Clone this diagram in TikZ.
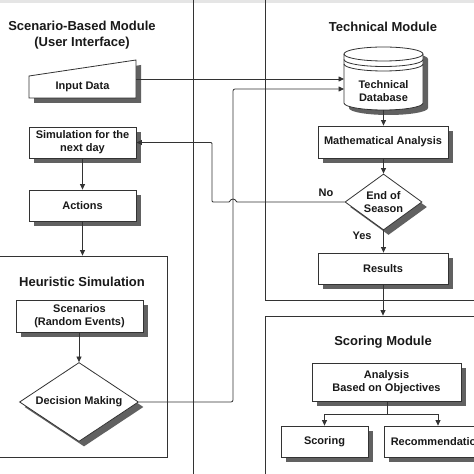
\documentclass[tikz,border=0pt]{standalone}
\usepackage{fontspec}
\setmainfont{Liberation Sans}
\usetikzlibrary{arrows.meta,shapes.geometric,shadows,calc}
\newcommand{\bxfont}{\bfseries\fontsize{11}{13}\selectfont}
\newcommand{\ttlfont}{\bfseries\fontsize{13}{16}\selectfont}
\colorlet{shadecol}{black!62}
\colorlet{linecol}{black!80}
\tikzset{
  ln/.style={draw=linecol, line width=0.8pt},
  arr/.style={ln, -{Triangle[length=5.5pt,width=5pt]}},
  shd/.style={drop shadow={shadow xshift=5pt,shadow yshift=-5pt,fill=shadecol,opacity=1}},
  box/.style={ln, fill=white, shd, inner sep=0pt, align=center, font=\bxfont, text=black!90},
  diam/.style={ln, fill=white, shd, diamond, inner sep=0pt},
  txt/.style={inner sep=0pt, align=center, font=\bxfont, text=black!90},
  ttl/.style={inner sep=0pt, align=center, font=\ttlfont, text=black!90},
  panel/.style={ln, inner sep=0pt},
  ghost/.style={inner sep=0pt, outer sep=0pt}
}
\begin{document}
\begin{tikzpicture}[x=1pt,y=1pt]
\useasboundingbox (0,0) rectangle (474,474);
\clip (0,0) rectangle (474,474);
\fill[white] (0,0) rectangle (474,474);
\fill[black!10] (0,471) rectangle (474,474);

% panels
\node[panel, minimum width=203pt, minimum height=500pt] (leftpanel) at (91.5,237) {};
\node[panel, minimum width=225pt, minimum height=316pt] (tmod) at (377.5,332) {};
\node[panel, minimum width=225pt, minimum height=168pt] (smod) at (377.5,74) {};
\node[panel, minimum width=177pt, minimum height=201pt] (heu) at (78.5,117.5) {};

% titles
\node[ttl] (t1) at (82,439) {Scenario-Based Module\\[0pt](User Interface)};
\node[ttl] (t2) at (383,447) {Technical Module};
\node[ttl] (t3) at (82,192) {Heuristic Simulation};
\node[ttl] (t4) at (383,132) {Scoring Module};

% input data (manual input shape)
\fill[shadecol] (34,393) -- (141,409) -- (141,371) -- (34,371) -- cycle;
\filldraw[ln, fill=white] (29,398) -- (136,414) -- (136,376) -- (29,376) -- cycle;
\node[ghost, minimum width=107pt, minimum height=38pt] (input) at (82.5,395) {};
\node[txt] (inputtxt) at (82.5,387) {Input Data};

% left column boxes
\node[box, minimum width=107pt, minimum height=31pt] (sim) at (82.5,331.5) {Simulation for the\\next day};
\node[box, minimum width=107pt, minimum height=31pt] (act) at (82.5,268.5) {Actions};
\node[box, minimum width=127pt, minimum height=32pt] (scen) at (79.5,158) {Scenarios\\(Random Events)};
\node[diam, minimum width=119pt, minimum height=79pt] (dec) at (79,72) {};
\node[txt] (dectxt) at (79,72) {Decision Making};

% database cylinder
\fill[shadecol, shift={(5,-5)}] (344,420) -- (344,371)
  arc[start angle=180,end angle=360,x radius=39.5,y radius=7] -- (423,420)
  arc[start angle=0,end angle=180,x radius=39.5,y radius=7] -- cycle;
\filldraw[ln, fill=white] (344,420) -- (344,371)
  arc[start angle=180,end angle=360,x radius=39.5,y radius=7] -- (423,420)
  arc[start angle=0,end angle=180,x radius=39.5,y radius=7] -- cycle;
\draw[ln] (344,420) arc[start angle=180,end angle=360,x radius=39.5,y radius=7];
\draw[ln] (344,414.5) arc[start angle=180,end angle=360,x radius=39.5,y radius=7];
\draw[ln] (344,410) arc[start angle=180,end angle=360,x radius=39.5,y radius=7];
\node[ghost, minimum width=79pt, minimum height=63pt] (db) at (383.5,395.5) {};
\node[txt] (dbtxt) at (383.5,383) {Technical\\Database};

% technical column
\node[box, minimum width=130pt, minimum height=32pt] (math) at (383,332) {Mathematical Analysis};
\node[diam, minimum width=77pt, minimum height=56pt] (eos) at (383.5,272) {};
\node[txt] (eostxt) at (383.5,272) {End of\\Season};
\node[box, minimum width=130pt, minimum height=31pt] (res) at (383,205.5) {Results};
\node[txt] (no) at (326,281) {No};
\node[txt] (yes) at (362,238) {Yes};

% scoring column
\node[box, minimum width=149pt, minimum height=38pt] (ana) at (386.5,92) {Analysis\\Based on Objectives};
\node[box, minimum width=87pt, minimum height=31pt] (sco) at (324.5,32.5) {Scoring};
\node[box, minimum width=112pt, minimum height=31pt] (rec) at (440,32.5) {Recommendations};

% connectors
\coordinate (j1) at (233,385);
\coordinate (j2) at (212,272);
\coordinate (j3) at (387,60);
\draw[arr] (input.east) -- (input.east -| db.west);
\draw[arr, rounded corners=2pt] (dec.east) -| (j1) -- (j1 -| db.west);
\draw[arr, rounded corners=1pt] (eos.west) -- (236,272) arc[start angle=0,end angle=180,radius=3] -- (j2) |- (sim.east);
\draw[arr] (sim.south) -- (act.north);
\draw[arr] (act.south) -- (act.south |- heu.north);
\draw[arr] (scen.south -| dec.north) -- (dec.north);
\draw[arr] (db.south) -- (db.south |- math.north);
\draw[arr] (math.south -| eos.north) -- (eos.north);
\draw[arr] (eos.south) -- (eos.south |- res.north);
\draw[arr] (res.south) -- (res.south |- smod.north);
\draw[ln] (ana.south -| j3) -- (j3);
\draw[arr] (j3) -| (sco.north);
\draw[arr] (j3) -| ($(rec.north)+(-2,0)$);
\end{tikzpicture}
\end{document}
